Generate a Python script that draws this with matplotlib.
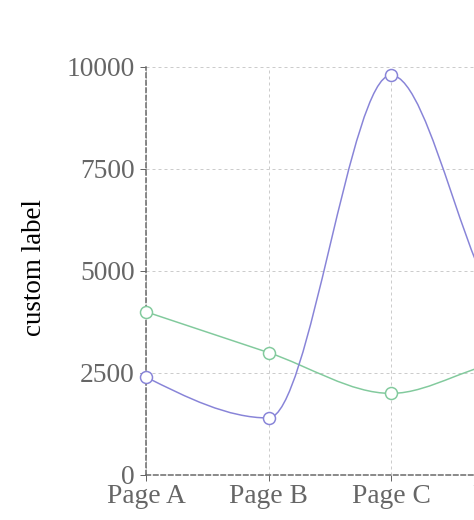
import numpy as np
import matplotlib.pyplot as plt
from matplotlib.path import Path
from matplotlib.patches import PathPatch

pages = ['Page A', 'Page B', 'Page C', 'Page D', 'Page E', 'Page F', 'Page G']
pv = [2400, 1398, 9800, 3908, 4800, 3800, 4300]
uv = [4000, 3000, 2000, 2780, 1890, 2390, 3490]
y_ticks = [0, 2500, 5000, 7500, 10000]

PX = 0.72  # one pixel in points at dpi 100
AXIS_GREY = '#666666'


def monotone_path(x, y):
    """Cubic Bezier path following d3's curveMonotoneX."""
    x = np.asarray(x, float)
    y = np.asarray(y, float)
    n = len(x)
    h = np.diff(x)
    s = np.diff(y) / h
    t = np.zeros(n)
    for i in range(1, n - 1):
        p = (s[i - 1] * h[i] + s[i] * h[i - 1]) / (h[i - 1] + h[i])
        t[i] = (np.sign(s[i - 1]) + np.sign(s[i])) * min(abs(s[i - 1]), abs(s[i]), 0.5 * abs(p))
    t[0] = (3 * s[0] - t[1]) / 2
    t[-1] = (3 * s[-1] - t[-2]) / 2
    verts = [(x[0], y[0])]
    codes = [Path.MOVETO]
    for i in range(n - 1):
        dx = h[i] / 3
        verts += [(x[i] + dx, y[i] + dx * t[i]),
                  (x[i + 1] - dx, y[i + 1] - dx * t[i + 1]),
                  (x[i + 1], y[i + 1])]
        codes += [Path.CURVE4] * 3
    return Path(verts, codes)


plt.rcParams['font.family'] = ['Liberation Serif', 'DejaVu Serif']

fig = plt.figure(figsize=(4.74, 5.2), dpi=100)
# plot area runs past the right edge of the picture
ax = fig.add_axes([146 / 474, 45 / 520, 735 / 474, 408 / 520])

xs = np.arange(len(pages))
for values, colour in [(uv, '#82ca9d'), (pv, '#8884d8')]:
    ax.add_patch(PathPatch(monotone_path(xs, values), fill=False,
                           edgecolor=colour, linewidth=1.5 * PX, zorder=3))
    ax.plot(xs, values, linestyle='none', marker='o', markersize=12 * PX,
            markerfacecolor='white', markeredgecolor=colour,
            markeredgewidth=1.5 * PX, zorder=4, clip_on=False)

ax.set_xlim(0, len(pages) - 1)
ax.set_ylim(0, 10000)
ax.set_xticks(xs)
ax.set_xticklabels(pages)
ax.set_yticks(y_ticks)
ax.set_yticklabels([str(v) for v in y_ticks])

ax.grid(True, color='#cccccc', linestyle=(0, (3, 3)), linewidth=PX, zorder=1)
ax.set_axisbelow(True)

for side in ['top', 'right']:
    ax.spines[side].set_visible(False)
for side in ['left', 'bottom']:
    ax.spines[side].set_color(AXIS_GREY)
    ax.spines[side].set_linewidth(1.5 * PX)
    ax.spines[side].set_linestyle((0, (3, 2)))

ax.tick_params(axis='both', colors=AXIS_GREY, labelcolor=AXIS_GREY,
               labelsize=27.5 * PX, length=6 * PX, width=PX)
ax.tick_params(axis='y', pad=4)
ax.tick_params(axis='x', pad=2)

ax.set_ylabel('custom label', fontsize=27 * PX, color='black')
ax.yaxis.set_label_coords(47 / 474, 1 - 268 / 520, transform=fig.transFigure)

fig.savefig('out.png', dpi=100)
